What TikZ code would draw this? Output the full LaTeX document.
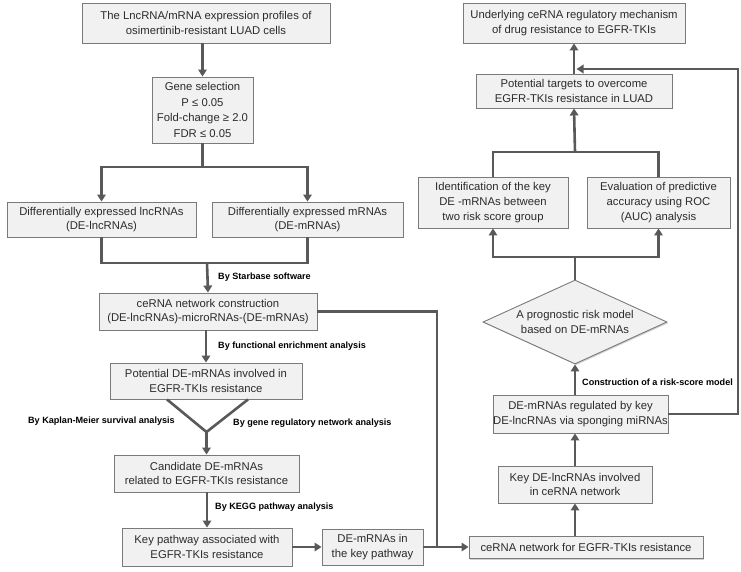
\documentclass[tikz,border=0pt]{standalone}
\usepackage{fontspec}
\setmainfont{Liberation Sans}
\usetikzlibrary{arrows.meta, shapes.geometric, shadows}

\definecolor{boxfill}{HTML}{F1F1F1}
\definecolor{boxline}{HTML}{7A7A7A}
\definecolor{flowgray}{HTML}{595959}
\definecolor{textgray}{HTML}{2B2B2B}

\tikzset{
  stepbox/.style={draw=boxline, fill=boxfill, line width=0.9pt, align=center, inner sep=0pt,
    text=textgray, font=\fontsize{11.3}{14.8}\selectfont,
    drop shadow={shadow xshift=1.2pt, shadow yshift=-1.2pt, opacity=0.3, fill=black!60}},
  decision/.style={stepbox, diamond, aspect=2.2},
  flow/.style={draw=flowgray, line width=2.6pt},
  flowarrow/.style={flow, -{Triangle[length=7pt, width=8.5pt]}},
  steplabel/.style={font=\fontsize{9.1}{10}\selectfont\bfseries, inner sep=0pt},
}

\begin{document}
\begin{tikzpicture}[x=1pt, y=-1pt]
\useasboundingbox (0,0) rectangle (741,571);

% Left column: from expression profiles to the key pathway
\node[stepbox, minimum width=248pt, minimum height=40pt] (profiles) at (206,23)
  {The LncRNA/mRNA expression profiles of\\osimertinib-resistant LUAD cells};
\node[stepbox, minimum width=101pt, minimum height=66pt, font=\fontsize{11.3}{15.5}\selectfont] (genesel) at (202.5,110)
  {Gene selection\\P ≤ 0.05\\Fold-change ≥ 2.0\\FDR ≤ 0.05};
\node[stepbox, minimum width=189pt, minimum height=35pt] (delnc) at (101.5,219.5)
  {Differentially expressed lncRNAs\\(DE-lncRNAs)};
\node[stepbox, minimum width=191pt, minimum height=35pt] (demrna) at (307.5,219.5)
  {Differentially expressed mRNAs\\(DE-mRNAs)};
\node[stepbox, minimum width=218pt, minimum height=37pt] (cenetbuild) at (208,311.5)
  {ceRNA network construction\\(DE-lncRNAs)-microRNAs-(DE-mRNAs)};
\node[stepbox, minimum width=192pt, minimum height=36pt] (potdem) at (206,381)
  {Potential DE-mRNAs involved in\\EGFR-TKIs resistance};
\node[stepbox, minimum width=185pt, minimum height=37pt] (canddem) at (206.5,473.5)
  {Candidate DE-mRNAs\\related to EGFR-TKIs resistance};
\node[stepbox, minimum width=170pt, minimum height=38pt] (keypath) at (207,547)
  {Key pathway associated with\\EGFR-TKIs resistance};
\node[stepbox, minimum width=101pt, minimum height=36pt] (demkey) at (372.5,547)
  {DE-mRNAs in\\the key pathway};

% Right column: from the ceRNA network up to the mechanism
\node[stepbox, minimum width=234pt, minimum height=22pt] (cenetegfr) at (586,547.5)
  {ceRNA network for EGFR-TKIs resistance};
\node[stepbox, minimum width=154pt, minimum height=37pt] (keylnc) at (575,484.5)
  {Key DE-lncRNAs involved\\in ceRNA network};
\node[stepbox, minimum width=175pt, minimum height=38pt] (demreg) at (580.5,414)
  {DE-mRNAs regulated by key\\DE-lncRNAs via sponging miRNAs};
\node[decision, minimum width=184pt, minimum height=84pt] (riskmodel) at (575,322)
  {A prognostic risk model\\based on DE-mRNAs};
\node[stepbox, minimum width=150pt, minimum height=51pt] (identkey) at (493,202.5)
  {Identification of the key\\DE -mRNAs between\\two risk score group};
\node[stepbox, minimum width=143pt, minimum height=51pt] (evalroc) at (658.5,202.5)
  {Evaluation of predictive\\accuracy using ROC\\(AUC) analysis};
\node[stepbox, minimum width=196pt, minimum height=34pt] (pottarget) at (574,91)
  {Potential targets to overcome\\EGFR-TKIs resistance in LUAD};
\node[stepbox, minimum width=222pt, minimum height=40pt] (mechanism) at (574,23)
  {Underlying ceRNA regulatory mechanism\\of drug resistance to EGFR-TKIs};

% Junction points
\coordinate (split1) at (202.5,167);
\coordinate (merge1) at (207,263);
\coordinate (vmerge) at (206.5,432);
\coordinate (joint) at (437,547);
\coordinate (split2) at (575,257);
\coordinate (merge2) at (575,152);
\coordinate (rtop) at (738,69);
\coordinate (rjoin) at (576.5,69);

% Connectors, left column
\draw[flowarrow] (profiles.south -| genesel) -- (genesel.north);
\draw[flow] (genesel.south) -- (split1);
\draw[flowarrow] (split1) -| (delnc.north);
\draw[flowarrow] (split1) -| (demrna.north);
\draw[flow] (delnc.south) |- (merge1) -| (demrna.south);
\draw[flowarrow] (merge1) -- (cenetbuild.north);
\node[steplabel, anchor=west] (lblstarbase) at (218,277) {By Starbase software};

\draw[flowarrow] (cenetbuild.south -| potdem) -- (potdem.north);
\node[steplabel, anchor=west] (lblfunc) at (218,346) {By functional enrichment analysis};

\draw[flow] ([xshift=-39pt]potdem.south) -- (vmerge) -- ([xshift=42pt]potdem.south);
\draw[flowarrow] (vmerge) -- (canddem.north);
\node[steplabel, anchor=east] (lblkm) at (175,421) {By Kaplan-Meier survival analysis};
\node[steplabel, anchor=west] (lblgrn) at (233,423) {By gene regulatory network analysis};

\draw[flowarrow] (canddem.south -| keypath) -- (keypath.north);
\node[steplabel, anchor=west] (lblkegg) at (215,507) {By KEGG pathway analysis};

\draw[flowarrow] (keypath) -- (demkey);
\draw[flowarrow] (demkey.east) -- (cenetegfr.west |- demkey.east);
\draw[flow] (cenetbuild.east) -| (joint);

% Connectors, right column
\draw[flowarrow] (cenetegfr.north -| keylnc) -- (keylnc.south);
\draw[flowarrow] (keylnc.north) -- (keylnc.north |- demreg.south);
\draw[flowarrow] (demreg.north -| riskmodel) -- (riskmodel.south);
\node[steplabel, anchor=west] (lblrisk) at (582,382) {Construction of a risk-score model};

\draw[flow] (riskmodel.north) -- (split2);
\draw[flowarrow] (split2) -| (identkey.south);
\draw[flowarrow] (split2) -| (evalroc.south);
\draw[flow] (identkey.north) |- (merge2) -| (evalroc.north);
\draw[flowarrow] (merge2) -- (pottarget.south);
\draw[flowarrow] (pottarget) -- (mechanism);
\draw[flowarrow] (demreg.east) -| (rtop) -- (rjoin);

\end{tikzpicture}
\end{document}
